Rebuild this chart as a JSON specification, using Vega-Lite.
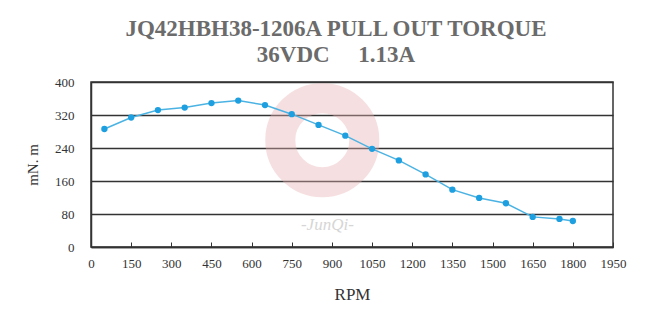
{
  "$schema": "https://vega.github.io/schema/vega-lite/v6.json",
  "width": 522,
  "height": 165,
  "autosize": {"type": "none"},
  "padding": {"left": 91, "top": 82, "right": 37, "bottom": 75},
  "background": "white",
  "title": {
    "text": ["JQ42HBH38-1206A PULL OUT TORQUE", "36VDC\u00a0\u00a0\u00a0\u00a0\u00a01.13A"],
    "anchor": "middle",
    "dx": -16,
    "offset": -29,
    "font": "Liberation Serif",
    "fontSize": 23,
    "fontWeight": "bold",
    "color": "#6b6b6b",
    "lineHeight": 26
  },
  "config": {
    "view": {"stroke": "#333333", "strokeWidth": 1.5},
    "axis": {
      "labelFont": "Liberation Serif",
      "titleFont": "Liberation Serif",
      "labelColor": "#333333",
      "titleColor": "#333333",
      "titleFontWeight": "normal"
    }
  },
  "datasets": {
    "torque": [
      {"rpm": 50, "torque": 286},
      {"rpm": 150, "torque": 314},
      {"rpm": 250, "torque": 332},
      {"rpm": 350, "torque": 338},
      {"rpm": 450, "torque": 349},
      {"rpm": 550, "torque": 355},
      {"rpm": 650, "torque": 344},
      {"rpm": 750, "torque": 322},
      {"rpm": 850, "torque": 296},
      {"rpm": 950, "torque": 270},
      {"rpm": 1050, "torque": 238},
      {"rpm": 1150, "torque": 210},
      {"rpm": 1250, "torque": 176},
      {"rpm": 1350, "torque": 139},
      {"rpm": 1450, "torque": 119},
      {"rpm": 1550, "torque": 106},
      {"rpm": 1650, "torque": 73},
      {"rpm": 1750, "torque": 68},
      {"rpm": 1800, "torque": 63}
    ],
    "logo": [{"rpm": 864, "torque": 259}],
    "mark": [{"rpm": 883, "torque": 53, "label": "-JunQi-"}]
  },
  "encoding": {
    "x": {
      "field": "rpm",
      "type": "quantitative",
      "scale": {"domain": [0, 1950], "nice": false, "zero": true},
      "axis": {
        "title": "RPM",
        "format": "d",
        "values": [0, 150, 300, 450, 600, 750, 900, 1050, 1200, 1350, 1500, 1650, 1800, 1950],
        "grid": false,
        "labelFlush": false,
        "labelOverlap": false,
        "domainColor": "#333333",
        "domainWidth": 1.5,
        "tickColor": "#333333",
        "tickSize": -5,
        "tickWidth": 1,
        "labelPadding": 15,
        "labelFontSize": 13,
        "titleFontSize": 17,
        "titlePadding": 16
      }
    },
    "y": {
      "field": "torque",
      "type": "quantitative",
      "scale": {"domain": [0, 400], "nice": false},
      "axis": {
        "title": "mN. m",
        "values": [0, 80, 160, 240, 320, 400],
        "grid": true,
        "gridColor": "#333333",
        "gridWidth": 1.5,
        "domainColor": "#333333",
        "domainWidth": 1.5,
        "ticks": false,
        "labelPadding": 17,
        "labelFontSize": 13,
        "titleFontSize": 15,
        "titlePadding": 14
      }
    }
  },
  "layer": [
    {
      "data": {"name": "logo"},
      "mark": {"type": "point", "shape": "circle", "filled": false, "size": 7056, "stroke": "#eab0b2", "strokeWidth": 30, "opacity": 0.4}
    },
    {
      "data": {"name": "mark"},
      "mark": {"type": "text", "font": "Liberation Serif", "fontStyle": "italic", "fontSize": 17, "color": "#d6d6d6"},
      "encoding": {"text": {"field": "label"}}
    },
    {
      "data": {"name": "torque"},
      "mark": {"type": "line", "color": "#4bb3e3", "strokeWidth": 1.5}
    },
    {
      "data": {"name": "torque"},
      "mark": {"type": "point", "filled": true, "size": 40, "color": "#1ea0e0", "opacity": 1}
    }
  ]
}
